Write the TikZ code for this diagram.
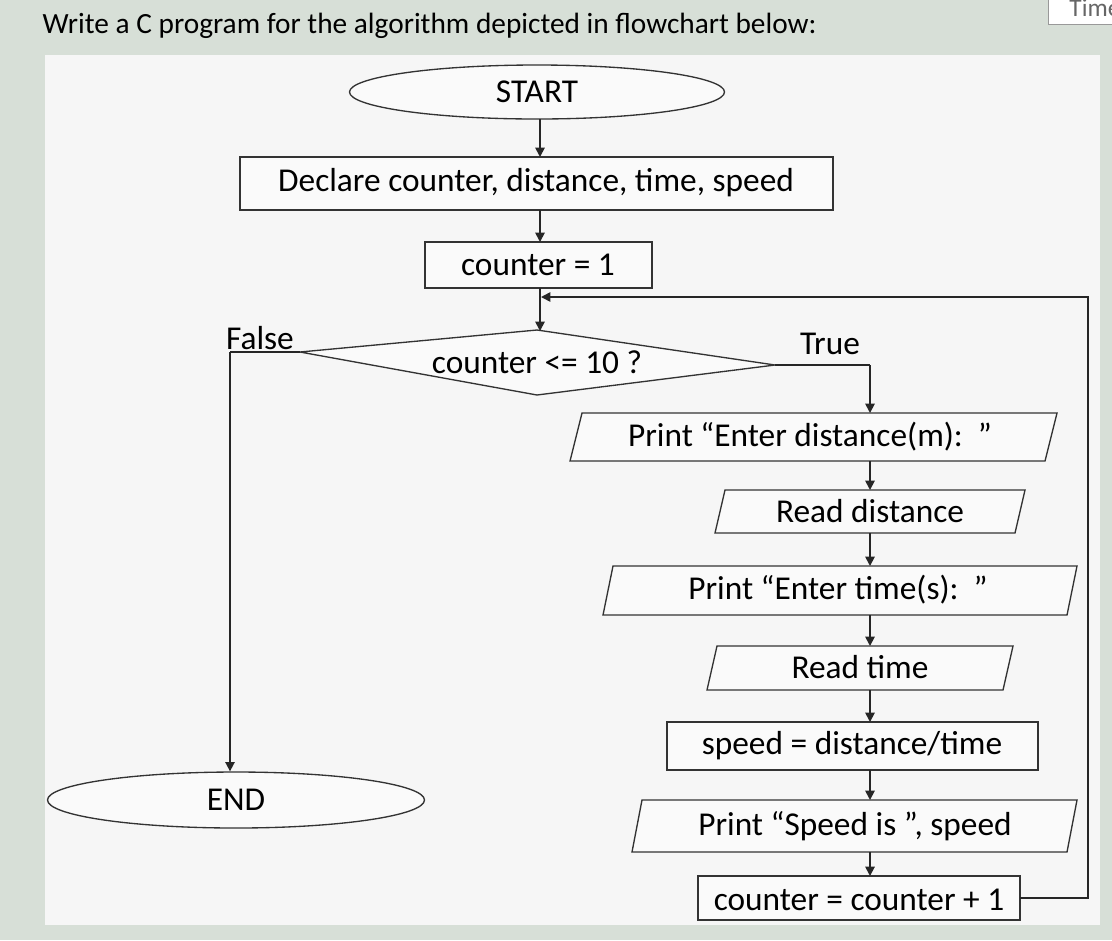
\documentclass[tikz,border=0pt]{standalone}
\usepackage{fontspec}
\setmainfont{Carlito}
\usetikzlibrary{shapes.geometric,arrows.meta}
\begin{document}
\begin{tikzpicture}[x=0.75pt,y=-0.75pt,
  every node/.style={font=\fontsize{25}{28}\selectfont},
  box/.style={draw=black!80,line width=1pt,fill=white!96!gray},
  ln/.style={draw=black!85,line width=1.3pt},
  arr/.style={ln,-{Triangle[length=7pt,width=7pt]}}]
\useasboundingbox (0,0) rectangle (1112,940);
\fill[gray!25!green!5!white!88!black] (0,0) rectangle (1112,940);
\fill[white!93!gray] (45,55) rectangle (1100,925);
\node[anchor=west,font=\fontsize{22}{25}\selectfont] (title) at (38,26) {Write a C program for the algorithm depicted in flowchart below:};
\node[draw=black!40,fill=white,anchor=north west,minimum width=70pt,minimum height=24pt,font=\fontsize{19}{22}\selectfont,text=black!60] (time) at (1048,-8) {Time};
\node[box,ellipse,minimum width=375*0.75pt,minimum height=54*0.75pt] (start) at (537,92) {START};
\draw[box] (240,157) rectangle (833,210); \node (decl) at (536,183) {Declare counter, distance, time, speed};
\coordinate (declT) at (540,157); \coordinate (declB) at (540,210);
\draw[box] (425,242) rectangle (652,288); \node (c1) at (538,265) {counter = 1};
\coordinate (c1T) at (540,242); \coordinate (c1B) at (540,288);
\draw[box] (300,352) -- (537,330) -- (775,365) -- (537,395) -- cycle;
\node (dec) at (537,362) {counter <= 10 ?};
\coordinate (dT) at (540,331); \coordinate (dL) at (300,352); \coordinate (dR) at (775,365);
\node (false) at (260,338) {False};
\node (true) at (830,344) {True};
\node[box,ellipse,minimum width=377*0.75pt,minimum height=56*0.75pt] (end) at (236,800) {END};
\draw[box] (582,413) -- (1057,413) -- (1045,461) -- (570,461) -- cycle; \node (p1) at (810,437) {Print “Enter distance(m):~~”};
\draw[box] (725,490) -- (1025,490) -- (1015,533) -- (715,533) -- cycle; \node (rd) at (870,511) {Read distance};
\draw[box] (613,566) -- (1077,566) -- (1067,615) -- (603,615) -- cycle; \node (p2) at (838,590) {Print “Enter time(s):~~”};
\draw[box] (717,646) -- (1013,646) -- (1003,690) -- (707,690) -- cycle; \node (rt) at (860,667) {Read time};
\draw[box] (667,722) rectangle (1038,770); \node (sp) at (852,746) {speed = distance/time};
\draw[box] (642,800) -- (1077,800) -- (1067,852) -- (632,852) -- cycle; \node (p3) at (855,826) {Print “Speed is ”, speed};
\draw[box] (698,876) rectangle (1020,920); \node (inc) at (859,900) {counter = counter + 1};
\coordinate (sB) at (540,119);
\draw[arr] (sB) -- (declT);
\draw[arr] (declB) -- (c1T);
\draw[arr] (c1B) -- (dT);
\draw[ln] (dL) -- (230,352) coordinate (fc);
\draw[arr] (fc) -- (end.north -| fc);
\draw[ln] (dR) -- (870,365) coordinate (tc);
\draw[arr] (tc) -- (870,413);
\draw[arr] (870,461) -- (870,490);
\draw[arr] (870,533) -- (870,566);
\draw[arr] (870,615) -- (870,646);
\draw[arr] (870,690) -- (870,722);
\draw[arr] (870,770) -- (870,800);
\draw[arr] (870,852) -- (870,876);
\draw[arr] (1020,898) -- (1088,898) -- (1088,297) -- (541,297);
\end{tikzpicture}
\end{document}
